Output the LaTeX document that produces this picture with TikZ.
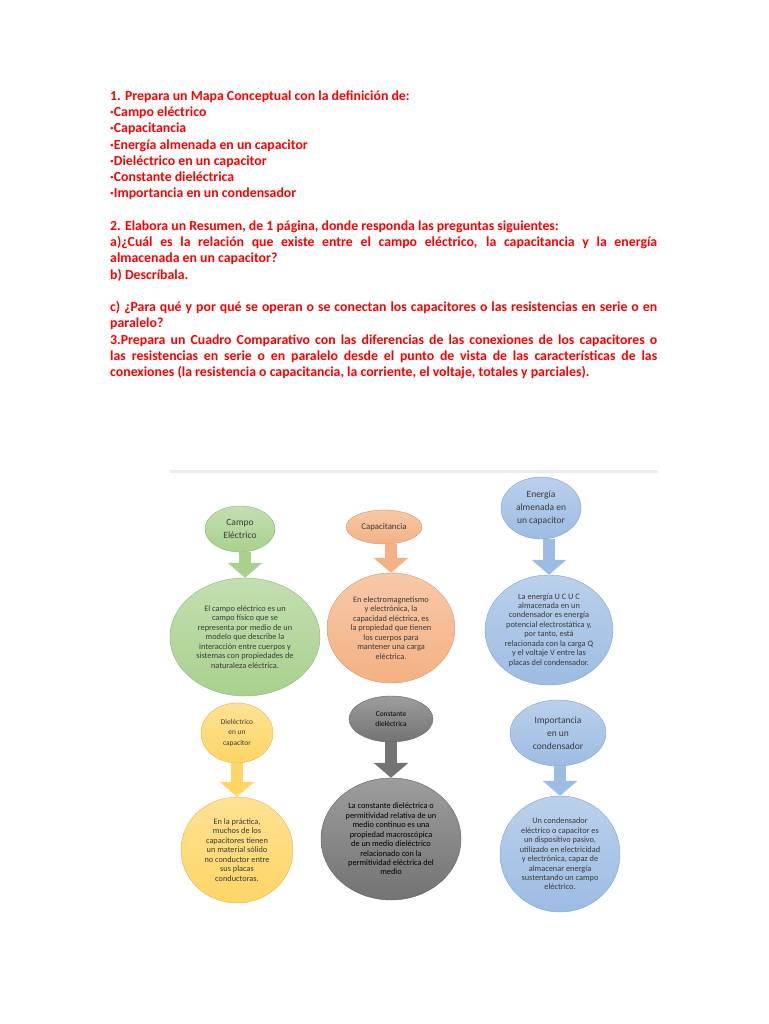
\documentclass[tikz,border=0pt]{standalone}
\usepackage{fontspec}
\setmainfont{Carlito}
\usetikzlibrary{shapes.geometric,arrows.meta}

\definecolor{verde}{HTML}{A9D18E}
\definecolor{salmon}{HTML}{F4B183}
\definecolor{azul}{HTML}{9DBCE3}
\definecolor{amarillo}{HTML}{FFD565}
\definecolor{gris}{HTML}{737373}
\definecolor{rojo}{HTML}{FF0000}
\definecolor{tinta}{HTML}{3A3A3A}

\begin{document}
\begin{tikzpicture}[x=1pt,y=-1pt,
    oval/.style={ellipse, inner sep=0pt, align=center, text=tinta,
        draw=#1!85!black, line width=0.4pt, top color=#1!70!white, bottom color=#1},
    titulo/.style={font=\fontsize{9.5}{13}\selectfont},
    titchico/.style={font=\fontsize{7.4}{10.5}\selectfont},
    cuerpo/.style={font=\fontsize{8.3}{9.45}\selectfont},
    flecha/.style={draw=#1, line width=12pt, -{Triangle[width=34pt,length=15pt]}}]

    \fill[white] (0,0) rectangle (768,1024);
    \useasboundingbox (0,0) rectangle (768,1024);

    % Enunciado de la tarea
    \node[anchor=north west, inner sep=0pt, text width=547pt, align=justify, text=rojo,
          font=\fontsize{13.8}{16.25}\selectfont\bfseries] (enunciado) at (110,90.5) {%
        1. Prepara un Mapa Conceptual con la definición de:\\
        ·Campo eléctrico\\
        ·Capacitancia\\
        ·Energía almenada en un capacitor\\
        ·Dieléctrico en un capacitor\\
        ·Constante dieléctrica\\
        ·Importancia en un condensador\\[16.25pt]
        2. Elabora un Resumen, de 1 página, donde responda las preguntas siguientes:\\
        a)¿Cuál es la relación que existe entre el campo eléctrico, la capacitancia y la energía\linebreak
        almacenada en un capacitor?\\
        b) Descríbala.\\[16.25pt]
        c) ¿Para qué y por qué se operan o se conectan los capacitores o las resistencias en serie o en\linebreak
        paralelo?\\
        3.Prepara un Cuadro Comparativo con las diferencias de las conexiones de los capacitores o\linebreak
        las resistencias en serie o en paralelo desde el punto de vista de las características de las\linebreak
        conexiones (la resistencia o capacitancia, la corriente, el voltaje, totales y parciales).};

    % borde de la imagen pegada
    \fill[black!8] (170,470) rectangle (658,473);

    % Campo eléctrico
    \node[oval=verde, titulo, minimum width=70pt, minimum height=46pt] (campoT) at (240,529) {Campo\\Eléctrico};
    \node[oval=verde, cuerpo, minimum width=150pt, minimum height=118pt] (campoB) at (245,637)
        {El campo eléctrico es un\\campo físico que se\\representa por medio de un\\modelo que describe la\\interacción entre cuerpos y\\sistemas con propiedades de\\naturaleza eléctrica.};
    \draw[flecha=verde] (campoT.south -| campoB) -- (campoB.north);

    % Capacitancia
    \node[oval=salmon, font=\fontsize{8.8}{11}\selectfont, minimum width=76pt, minimum height=34pt] (capT) at (384,527) {Capacitancia};
    \node[oval=salmon, cuerpo, minimum width=128pt, minimum height=110pt] (capB) at (391,628)
        {En electromagnetismo\\y electrónica, la\\capacidad eléctrica, es\\la propiedad que tienen\\los cuerpos para\\mantener una carga\\eléctrica.};
    \draw[flecha=salmon] (capT.south -| capB) -- (capB.north);

    % Energía almacenada
    \node[oval=azul, titulo, minimum width=80pt, minimum height=62pt] (enerT) at (541,508) {Energía\\almenada en\\un capacitor};
    \node[oval=azul, cuerpo, minimum width=128pt, minimum height=110pt] (enerB) at (549,630)
        {La energía U C U C\\almacenada en un\\condensador es energía\\potencial electrostática y,\\por tanto, está\\relacionada con la carga Q\\y el voltaje V entre las\\placas del condensador.};
    \draw[flecha=azul] (enerT.south -| enerB) -- (enerB.north);

    % Dieléctrico
    \node[oval=amarillo, titchico, minimum width=72pt, minimum height=60pt] (dielT) at (237,733) {Dieléctrico\\en un\\capacitor};
    \node[oval=amarillo, cuerpo, minimum width=112pt, minimum height=106pt] (dielB) at (237,850)
        {En la práctica,\\muchos de los\\capacitores tienen\\un material sólido\\no conductor entre\\sus placas\\conductoras.};
    \draw[flecha=amarillo] (dielT.south -| dielB) -- (dielB.north);

    % Constante dieléctrica
    \node[oval=gris, titchico, text=black, minimum width=84pt, minimum height=46pt] (constT) at (391,719) {Constante\\dieléctrica};
    \node[oval=gris, cuerpo, text=black, minimum width=140pt, minimum height=122pt] (constB) at (391,839)
        {La constante dieléctrica o\\permitividad relativa de un\\medio continuo es una\\propiedad macroscópica\\de un medio dieléctrico\\relacionado con la\\permitividad eléctrica del\\medio};
    \draw[flecha=gris] (constT.south -| constB) -- (constB.north);

    % Importancia
    \node[oval=azul, titulo, minimum width=96pt, minimum height=66pt] (impT) at (558,733) {Importancia\\en un\\condensador};
    \node[oval=azul, cuerpo, minimum width=120pt, minimum height=116pt] (impB) at (560,854)
        {Un condensador\\eléctrico o capacitor es\\un dispositivo pasivo,\\utilizado en electricidad\\y electrónica, capaz de\\almacenar energía\\sustentando un campo\\eléctrico.};
    \draw[flecha=azul] (impT.south -| impB) -- (impB.north);
\end{tikzpicture}
\end{document}
